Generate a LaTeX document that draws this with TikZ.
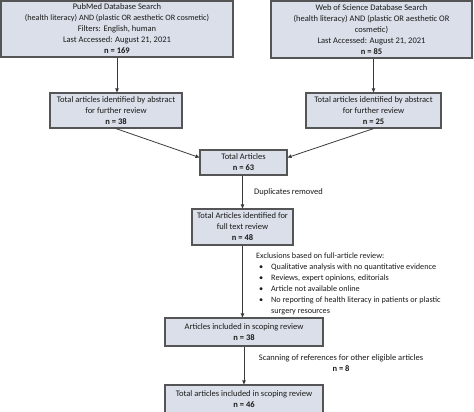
\documentclass[tikz,border=0pt]{standalone}
\usepackage{fontspec}
\setmainfont{Carlito}
\usetikzlibrary{arrows.meta}
\definecolor{boxfill}{HTML}{DADFE9}
\definecolor{boxline}{HTML}{555555}
\definecolor{arrowc}{HTML}{3A3A3A}
\definecolor{txt}{HTML}{1A1A1A}
\newcommand{\bul}{\makebox[15pt][l]{\hspace{3pt}\textbullet}}
\newcommand{\fs}{\fontsize{8.5}{11}\selectfont}
\newcommand{\fss}{\fontsize{8.2}{10.9}\selectfont}
\tikzset{
  box/.style={draw=boxline, line width=1.2pt, fill=boxfill, align=center, inner sep=1pt,
    font=\fs, text=txt},
  conn/.style={draw=arrowc, line width=0.8pt, -{Triangle[length=4pt,width=3.5pt]}},
  lbl/.style={font=\fs, text=txt, inner sep=0pt}
}
\begin{document}
\begin{tikzpicture}[x=1pt,y=-1pt]
\useasboundingbox (0,0) rectangle (474,412);
\node[box, minimum width=232pt, minimum height=56pt] (pub) at (117,29)
  {PubMed Database Search\\{\fss(health literacy) AND (plastic OR aesthetic OR cosmetic)}\\Filters: English, human\\Last Accessed: August 21, 2021\\\textbf{n = 169}};
\node[box, minimum width=201pt, minimum height=57pt] (wos) at (371.5,29.5)
  {Web of Science Database Search\\(health literacy) AND (plastic OR aesthetic OR\\cosmetic)\\Last Accessed: August 21, 2021\\\textbf{n = 85}};
\node[box, minimum width=132pt, minimum height=35pt] (absl) at (116,110.5)
  {Total articles identified by abstract\\for further review\\\textbf{n = 38}};
\node[box, minimum width=135pt, minimum height=35pt] (absr) at (373.5,110.5)
  {Total articles identified by abstract\\for further review\\\textbf{n = 25}};
\node[box, minimum width=87pt, minimum height=25pt] (tot) at (243.5,162.5)
  {Total Articles\\\textbf{n = 63}};
\node[box, minimum width=101pt, minimum height=36pt] (full) at (242.5,227)
  {Total Articles identified for\\full text review\\\textbf{n = 48}};
\node[box, minimum width=158pt, minimum height=28pt] (scop) at (244,332)
  {Articles included in scoping review\\\textbf{n = 38}};
\node[box, minimum width=158pt, minimum height=28pt] (fin) at (244,399)
  {Total articles included in scoping review\\\textbf{n = 46}};
\draw[conn] (pub.south) -- (pub.south |- absl.north);
\draw[conn] (wos.south -| absr.north) -- (absr.north);
\draw[conn] (absl.south) -- ([yshift=5pt]tot.west);
\draw[conn] (absr.south) -- ([yshift=5pt]tot.east);
\draw[conn] (tot.south -| full.north) -- (full.north);
\draw[conn] (full.south) -- (full.south |- scop.north);
\draw[conn] (scop.south) -- (fin.north);
\node[lbl, anchor=west] (dup) at (254,192) {Duplicates removed};
\node[lbl, font=\fss, anchor=north west, align=left] (excl) at (256,253)
  {Exclusions based on full-article review:\\
   \bul Qualitative analysis with no quantitative evidence\\
   \bul Reviews, expert opinions, editorials\\
   \bul Article not available online\\
   \bul No reporting of health literacy in patients or plastic\\
   \hspace*{15pt}surgery resources};
\node[lbl, align=center] (scan) at (341,363)
  {Scanning of references for other eligible articles\\\textbf{n = 8}};
\end{tikzpicture}
\end{document}
